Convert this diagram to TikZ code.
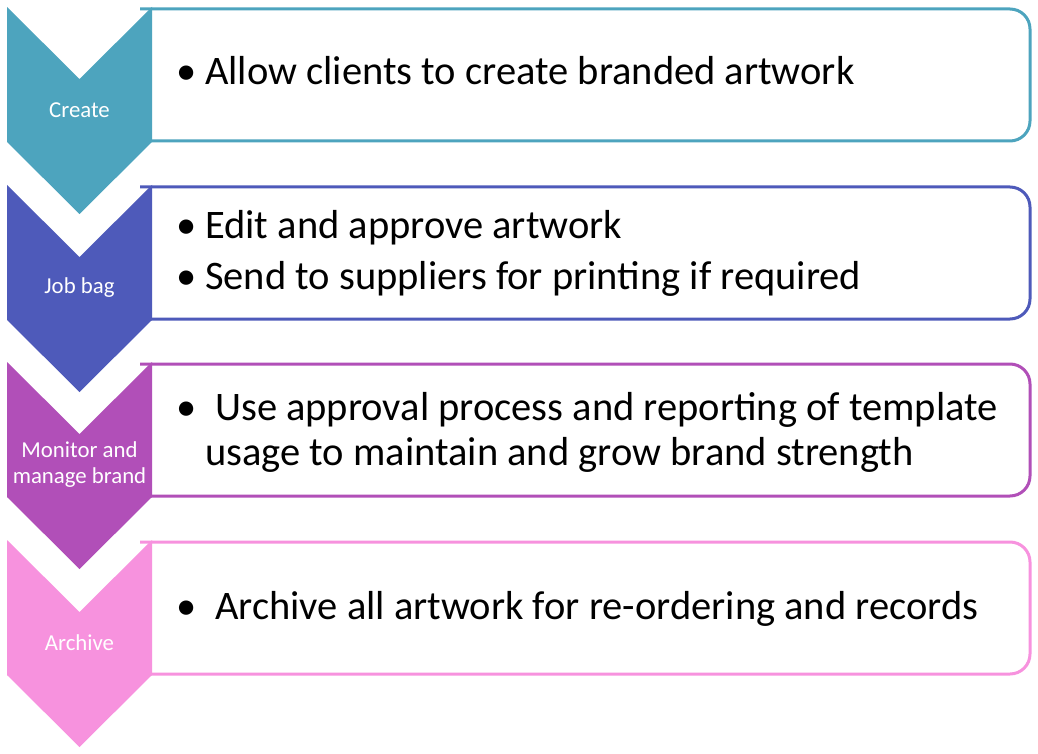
\documentclass[tikz,border=0pt]{standalone}
\usepackage{fontspec}
\setmainfont{Carlito}
\definecolor{cA}{HTML}{4DA4BE}
\definecolor{cB}{HTML}{4E5ABA}
\definecolor{cC}{HTML}{B14FB8}
\definecolor{cD}{HTML}{F792DE}
\tikzset{
  lab/.style={text=white, font=\fontsize{22.8}{26}\selectfont, align=center, inner sep=0pt},
  btxt/.style={anchor=base west, font=\fontsize{40.5}{48}\selectfont, inner sep=0pt, text=black},
}
\newcommand{\bul}{\makebox[29pt][l]{•}}
\begin{document}
\begin{tikzpicture}[x=1pt,y=-1pt]
\useasboundingbox (0,0) rectangle (1038,754);
% boxes and chevrons
\foreach \t/\c in {7/cA,185/cB,362/cC,540/cD}{
  \draw[draw=\c, line width=3pt, fill=white, rounded corners=20pt]
    (140,\t+2) -- (1030,\t+2) -- (1030,\t+134) -- (140,\t+134);
  \fill[\c] (7,\t) -- (79.5,\t+72) -- (152,\t) -- (152,\t+135) -- (79.5,\t+207) -- (7,\t+135) -- cycle;
}
% labels
\node[lab] (l1) at (79.5,110) {Create};
\node[lab] (l2) at (79.5,288) {Job bag};
\node[lab] (l3) at (79.5,465) {Monitor and\\manage brand};
\node[lab] (l4) at (79.5,643) {Archive};
% texts
\node[btxt] (t1) at (176,85) {\bul Allow clients to create branded artwork};
\node[btxt] (t2a) at (176,238) {\bul Edit and approve artwork};
\node[btxt] (t2b) at (176,289) {\bul Send to suppliers for printing if required};
\node[btxt] (t3a) at (176,420) {\bul\hspace{10pt}Use approval process and reporting of template};
\node[btxt] (t3b) at (205,465) {usage to maintain and grow brand strength};
\node[btxt] (t4) at (176,619) {\bul\hspace{10pt}Archive all artwork for re-ordering and records};
\end{tikzpicture}
\end{document}
